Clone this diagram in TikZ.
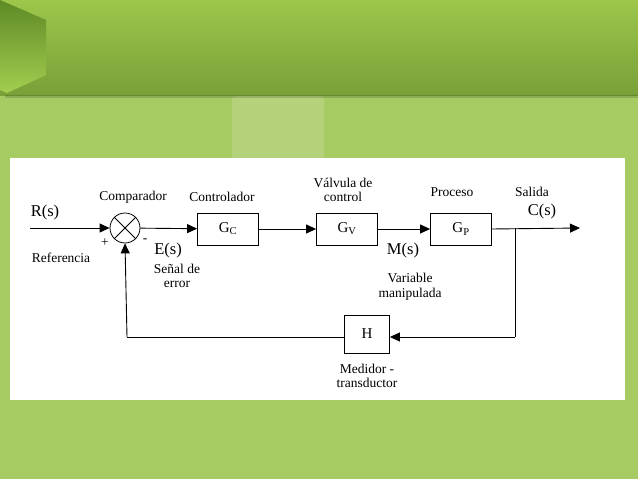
\documentclass[tikz,border=0pt]{standalone}
\usepackage{fontspec}
\setmainfont{Liberation Serif}
\usetikzlibrary{arrows.meta}
\definecolor{bggreen}{HTML}{A6CB63}
\definecolor{bartop}{HTML}{9DC64B}
\definecolor{barbot}{HTML}{78A038}
\definecolor{hexdark}{HTML}{5E8A26}
\definecolor{hexlight}{HTML}{A2CE50}
\tikzset{
  blk/.style={draw,line width=0.8pt,minimum width=61pt,minimum height=32pt,inner sep=0pt,font=\fontsize{15}{15}\selectfont},
  lbl/.style={font=\fontsize{13.5}{14.5}\selectfont,align=center,inner sep=0pt},
  big/.style={font=\fontsize{16.5}{17}\selectfont,inner sep=0pt},
  sig/.style={line width=0.9pt,-{Triangle[length=10pt,width=9pt]}},
  ln/.style={line width=0.9pt}
}
\begin{document}
\begin{tikzpicture}[x=1pt,y=-1pt]
\useasboundingbox (0,0) rectangle (638,479);
\fill[bggreen] (0,0) rectangle (638,479);
\fill[white,opacity=0.15] (232,98) -- (240,92) -- (316,92) -- (324,98) -- (324,158) -- (232,158) -- cycle;
\shade[top color=bartop,bottom color=barbot] (0,0) rectangle (638,95);
\fill[black,opacity=0.15] (5,95) rectangle (638,98);
\shade[top color=hexdark,bottom color=hexlight] (0,0) -- (46,20) -- (46,75) -- (7,93) -- (0,90) -- cycle;
\fill[white] (10,158) rectangle (625,400);
% nodes
\node[big] (R) at (45,213) {R(s)};
\coordinate (in) at (30,228);
\node[draw,circle,line width=0.8pt,minimum size=30pt,inner sep=0pt] (cmp) at (125,228) {};
\draw[line width=0.8pt] (cmp.north west) -- (cmp.south east) (cmp.north east) -- (cmp.south west);
\node[blk] (gc) at (228,229) {G\textsubscript{C}};
\node[blk] (gv) at (347,229) {G\textsubscript{V}};
\node[blk] (gp) at (461,229) {G\textsubscript{P}};
\node[blk,minimum width=45pt,minimum height=38pt] (h) at (367,334) {H};
\coordinate (br) at (515,228);
\coordinate (out) at (580,228);
\coordinate (brd) at (515,337);
\coordinate (fl) at (127,337);
\draw[sig] (in) -- (cmp);
\draw[sig] (cmp) -- (gc);
\draw[sig] (gc) -- (gv);
\draw[sig] (gv) -- (gp);
\draw[sig] (gp.east) -- (out);
\draw[ln] (br) -- (brd);
\draw[sig] (brd) -- (h.east |- brd);
\draw[ln] (h.west |- fl) -- (fl);
\draw[sig] (fl) -- (cmp.south);
% labels
\node[lbl] (l1) at (133,197) {Comparador};
\node[lbl] (l2) at (222,197) {Controlador};
\node[lbl] (l3) at (343,190) {Válvula de\\control};
\node[lbl] (l4) at (452,192) {Proceso};
\node[lbl] (l5) at (532,192) {Salida};
\node[big] (cs) at (542,212) {C(s)};
\node[big] (ms) at (403,251) {M(s)};
\node[lbl] (l6) at (410,287) {Variable\\manipulada};
\node[lbl] (l7) at (367,376) {Medidor -\\transductor};
\node[big] (es) at (168,251) {E(s)};
\node[lbl] (l8) at (177,276) {Señal de\\error};
\node[lbl] (l9) at (61,258) {Referencia};
\node[lbl] (pl) at (105,243) {+};
\node[lbl] (mi) at (145,241) {-};
\end{tikzpicture}
\end{document}
